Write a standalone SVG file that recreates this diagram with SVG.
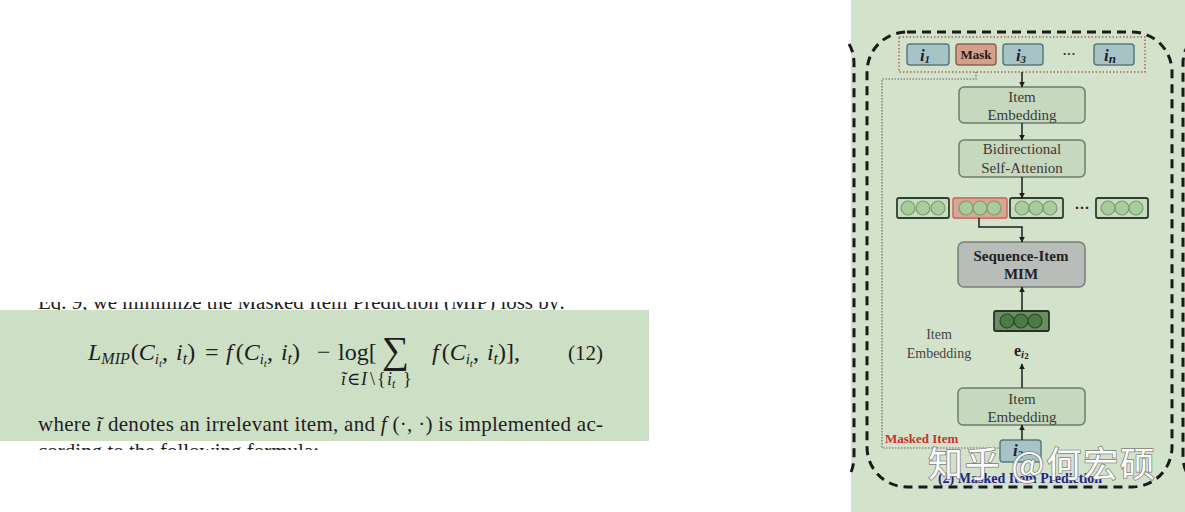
<svg xmlns="http://www.w3.org/2000/svg" width="1185" height="512" viewBox="0 0 1185 512">
<defs>
<marker id="ah" viewBox="0 0 10 10" refX="9" refY="5" markerWidth="6" markerHeight="6" orient="auto" markerUnits="userSpaceOnUse">
<path d="M0,0 L10,5 L0,10 z" fill="#1e1e1e"/>
</marker>
<clipPath id="clipTop"><rect x="0" y="302" width="660" height="8"/></clipPath>
<clipPath id="clipBot"><rect x="0" y="441" width="660" height="9"/></clipPath>
<style>
.serif{font-family:"Liberation Serif","DejaVu Serif",serif;fill:#1e1e1e}
.it{font-style:italic}
.box{fill:#c6d8be;stroke:#6e7e6a;stroke-width:1.5}
.boxtxt{font-family:"Liberation Serif","DejaVu Serif",serif;font-size:15px;fill:#3a3a3a;text-anchor:middle}
.item{fill:#a7c3c6;stroke:#587a80;stroke-width:1.5}
.itemtxt{font-family:"Liberation Serif","DejaVu Serif",serif;font-size:17px;font-weight:bold;font-style:italic;fill:#1a2433;text-anchor:middle}
.vec{fill:#c8dcc0;stroke:#2f3f2f;stroke-width:1.8}
.cir{fill:#a9cc9a;stroke:#7c9c72;stroke-width:1.2}
.conn{fill:none;stroke:#1e1e1e;stroke-width:1.5}
.dash{fill:none;stroke:#1a1a1a;stroke-width:3;stroke-dasharray:9 6}
</style>
</defs>

<!-- backgrounds -->
<rect x="0" y="0" width="1185" height="512" fill="#ffffff"/>
<rect x="0" y="310" width="649" height="131" fill="#cddfc5"/>
<rect x="851" y="0" width="334" height="512" fill="#d3e3cb"/>

<!-- left text panel -->
<g id="formula-panel">
<text class="serif" x="38" y="309" font-size="20" textLength="527" lengthAdjust="spacingAndGlyphs" clip-path="url(#clipTop)">Eq. 9, we minimize the Masked Item Prediction (MIP) loss by:</text>
<text class="serif" x="88" y="360" font-size="24"><tspan class="it">L</tspan><tspan class="it" font-size="16" dy="4">MIP</tspan><tspan dy="-4" dx="1">(</tspan><tspan class="it">C</tspan><tspan class="it" font-size="15" dy="4">i</tspan><tspan class="it" font-size="11" dy="3">t</tspan><tspan dy="-7">, </tspan><tspan class="it" dx="2">i</tspan><tspan class="it" font-size="16" dy="4">t</tspan><tspan dy="-4">)</tspan></text>
<text class="serif" x="205" y="360" font-size="24">=</text>
<text class="serif" x="226" y="360" font-size="24"><tspan class="it">f</tspan><tspan dx="3">(</tspan><tspan class="it">C</tspan><tspan class="it" font-size="15" dy="4">i</tspan><tspan class="it" font-size="11" dy="3">t</tspan><tspan dy="-7">, </tspan><tspan class="it" dx="2">i</tspan><tspan class="it" font-size="16" dy="4">t</tspan><tspan dy="-4">)</tspan></text>
<text class="serif" x="317" y="360" font-size="24">−</text>
<text class="serif" x="338" y="360" font-size="24">log[</text>
<text class="serif" x="382" y="363" font-size="38">∑</text>
<text class="serif" x="432" y="360" font-size="24"><tspan class="it">f</tspan><tspan dx="3">(</tspan><tspan class="it">C</tspan><tspan class="it" font-size="15" dy="4">i</tspan><tspan class="it" font-size="11" dy="3">t</tspan><tspan dy="-7">, </tspan><tspan class="it" dx="2">i</tspan><tspan class="it" font-size="16" dy="4">t</tspan><tspan dy="-4">)],</tspan></text>
<text class="serif" y="385" font-size="18"><tspan class="it" x="341">ĩ</tspan><tspan x="347">∈</tspan><tspan class="it" x="361">I</tspan><tspan x="370">\</tspan><tspan x="377">{</tspan><tspan class="it" x="387">i</tspan><tspan class="it" font-size="12" x="392" dy="3">t</tspan><tspan x="403" dy="-3">}</tspan></text>
<text class="serif" x="568" y="360" font-size="21">(12)</text>
<text class="serif" x="38" y="431" font-size="21" textLength="565" lengthAdjust="spacing">where <tspan class="it">ĩ</tspan> denotes an irrelevant item, and <tspan class="it">f</tspan> (·, ·) is implemented ac-</text>
<text class="serif" x="38" y="458" font-size="21" fill="#555" clip-path="url(#clipBot)">cording to the following formula:</text>
</g>

<!-- right figure: frames -->
<g id="frame">
<rect class="dash" x="867" y="32" width="305" height="455" rx="40"/>
<path class="dash" d="M849 44 Q854 52 854 64 L854 456 Q854 468 849 476"/>
<path class="dash" d="M1189 44 Q1183 52 1183 64 L1183 456 Q1183 468 1189 476"/>
</g>

<!-- input sequence -->
<g id="input-seq">
<rect x="899" y="37" width="246" height="35" fill="none" stroke="#a8685a" stroke-width="1.5" stroke-dasharray="1.5 2"/>
<g id="item-i1"><rect class="item" x="907" y="44" width="42" height="21" rx="3"/><text class="itemtxt" x="925" y="61">i<tspan font-size="11" dy="2">1</tspan></text></g>
<g id="item-mask"><rect x="956" y="44" width="40" height="21" rx="3" fill="#d4a08c" stroke="#94604e" stroke-width="1.5"/><text x="976" y="59" font-family="Liberation Serif, serif" font-weight="bold" font-size="13" fill="#2a1a14" text-anchor="middle">Mask</text></g>
<g id="item-i3"><rect class="item" x="1003" y="44" width="40" height="21" rx="3"/><text class="itemtxt" x="1021" y="61">i<tspan font-size="11" dy="2">3</tspan></text></g>
<text x="1069" y="58" font-family="Liberation Serif, serif" font-size="13" font-weight="bold" fill="#333" text-anchor="middle">···</text>
<g id="item-in"><rect class="item" x="1094" y="44" width="40" height="21" rx="3"/><text class="itemtxt" x="1110" y="61">i<tspan font-size="13" dy="2">n</tspan></text></g>
</g>

<g id="item-embedding-1">
<rect class="box" x="959" y="87" width="126" height="36" rx="5"/>
<text class="boxtxt" x="1022" y="102">Item</text>
<text class="boxtxt" x="1022" y="120">Embedding</text>
</g>

<g id="bi-attention">
<rect class="box" x="959" y="140" width="126" height="37" rx="5"/>
<text class="boxtxt" x="1022" y="154">Bidirectional</text>
<text class="boxtxt" x="1022" y="173">Self-Attenion</text>
</g>

<g id="hidden-vectors">
<g id="vec1"><rect class="vec" x="897" y="198" width="52" height="20" rx="2"/><circle class="cir" cx="908" cy="208" r="7"/><circle class="cir" cx="923" cy="208" r="7"/><circle class="cir" cx="938" cy="208" r="7"/></g>
<g id="vec2"><rect x="953" y="198" width="54" height="20" rx="2" fill="#d2a896" stroke="#d07a66" stroke-width="1.8"/><circle class="cir" cx="966" cy="208" r="7"/><circle class="cir" cx="980" cy="208" r="7"/><circle class="cir" cx="994" cy="208" r="7"/></g>
<g id="vec3"><rect class="vec" x="1010" y="198" width="53" height="20" rx="2"/><circle class="cir" cx="1022" cy="208" r="7"/><circle class="cir" cx="1036" cy="208" r="7"/><circle class="cir" cx="1050" cy="208" r="7"/></g>
<text x="1082" y="213" font-family="Liberation Serif, serif" font-size="15" font-weight="bold" fill="#222" text-anchor="middle">···</text>
<g id="vec4"><rect class="vec" x="1096" y="198" width="52" height="20" rx="2"/><circle class="cir" cx="1108" cy="208" r="7"/><circle class="cir" cx="1122" cy="208" r="7"/><circle class="cir" cx="1136" cy="208" r="7"/></g>
</g>

<g id="mim">
<rect x="958" y="242" width="127" height="45" rx="6" fill="#b9bdb9" stroke="#7a7e7a" stroke-width="1.5"/>
<text x="1021" y="261" font-family="Liberation Serif, serif" font-weight="bold" font-size="15" fill="#222" text-anchor="middle">Sequence-Item</text>
<text x="1021" y="279" font-family="Liberation Serif, serif" font-weight="bold" font-size="15" fill="#222" text-anchor="middle">MIM</text>
</g>

<g id="target-vector">
<rect x="994" y="311" width="55" height="20" rx="2" fill="#6c8c62" stroke="#253525" stroke-width="1.8"/>
<circle cx="1007" cy="321" r="7" fill="#4c7a44" stroke="#2c4a2a" stroke-width="1.2"/>
<circle cx="1021" cy="321" r="7" fill="#4c7a44" stroke="#2c4a2a" stroke-width="1.2"/>
<circle cx="1035" cy="321" r="7" fill="#4c7a44" stroke="#2c4a2a" stroke-width="1.2"/>
</g>

<g id="labels">
<text x="939" y="339" font-family="Liberation Serif, serif" font-size="14" fill="#444" text-anchor="middle">Item</text>
<text x="939" y="358" font-family="Liberation Serif, serif" font-size="14" fill="#444" text-anchor="middle">Embedding</text>
<text x="1014" y="356" font-family="Liberation Serif, serif" font-weight="bold" font-size="16" fill="#222">e<tspan font-style="italic" font-size="11" dy="2">i</tspan><tspan font-size="9" dy="1">2</tspan></text>
<text x="885" y="443" font-family="Liberation Serif, serif" font-weight="bold" font-size="13" fill="#c8302a">Masked Item</text>
</g>

<g id="item-embedding-2">
<rect class="box" x="958" y="388" width="127" height="37" rx="5"/>
<text class="boxtxt" x="1022" y="404">Item</text>
<text class="boxtxt" x="1022" y="422">Embedding</text>
</g>

<g id="item-i2">
<rect class="item" x="1000" y="440" width="41" height="22" rx="3"/>
<text class="itemtxt" x="1018" y="456">i<tspan font-size="11" dy="2">2</tspan></text>
</g>

<g id="connectors">
<line class="conn" x1="1022" y1="72" x2="1022" y2="87" marker-end="url(#ah)"/>
<line class="conn" x1="1022" y1="123" x2="1022" y2="140" marker-end="url(#ah)"/>
<line class="conn" x1="1022" y1="177" x2="1022" y2="198" marker-end="url(#ah)"/>
<path class="conn" d="M979 218 L979 227 L1022 227 L1022 242" marker-end="url(#ah)"/>
<line class="conn" x1="1022" y1="311" x2="1022" y2="287" marker-end="url(#ah)"/>
<line class="conn" x1="1022" y1="388" x2="1022" y2="364" marker-end="url(#ah)"/>
<line class="conn" x1="1022" y1="440" x2="1022" y2="425" marker-end="url(#ah)"/>
<path d="M976 72 L976 79 L882 79 L882 448 L1000 448" fill="none" stroke="#666" stroke-width="1.2" stroke-dasharray="1.5 1.5"/>
</g>

<g id="caption">
<text x="1020" y="483" font-family="Liberation Serif, serif" font-weight="bold" font-size="14" fill="#1e2488" text-anchor="middle">(2) Masked Item Prediction</text>
</g>

<g id="watermark">
<text x="928" y="477" font-family="Noto Sans CJK SC, sans-serif" font-size="35" textLength="227" lengthAdjust="spacing" fill="#ffffff" stroke="#7a7a7a" stroke-width="1.5" paint-order="stroke" opacity="0.95">知乎 @何宏硕</text>
</g>
</svg>
